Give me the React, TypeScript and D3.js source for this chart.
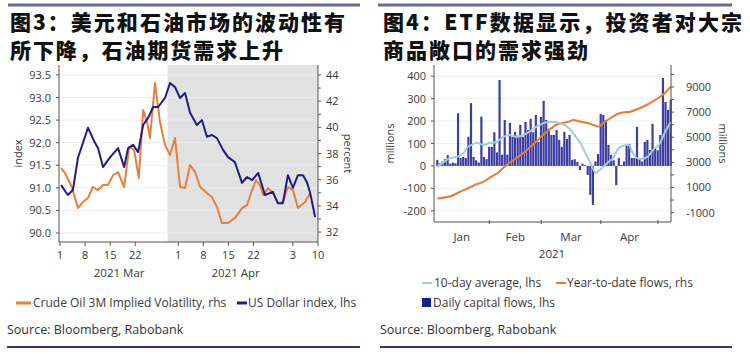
import React from "react";
import * as d3 from "d3";

// ---- Figure 3: USD index vs crude oil implied vol ----
// x is in days from the first observation (axis has uneven gaps in the source)
const fig3TickDays = [0, 7, 14, 21, 33, 40, 47, 54, 65, 72];
const fig3TickLabels = ["1", "8", "15", "22", "1", "8", "15", "22", "3", "10"];
const fig3MonthLabels = ["2021 Mar", "2021 Apr"];
const fig3MonthSpans = [[0, 33], [33, 65]];
const fig3ShadeFrom = 30;

const usdDays = [0.3, 2.2, 3.6, 5, 7.8, 9.8, 10.6, 12, 14, 16.2, 17.9, 19, 20.4, 21.8, 23.2, 24.6, 26, 27.4, 29.3, 30.7, 32.1, 33.5, 34.9, 36.3, 38.2, 39.6, 41, 42.4, 43.8, 45.5, 46.9, 48.8, 50.8, 52.2, 53.6, 55.3, 57.2, 59.4, 60.8, 62.2, 63.6, 65, 66.4, 67.8, 68.9, 69.8, 71.2];
const usdIndex = [91.06, 90.84, 90.95, 91.66, 92.33, 91.99, 91.88, 91.46, 91.68, 91.88, 91.46, 91.88, 91.95, 91.79, 92.39, 92.55, 92.79, 92.79, 92.99, 93.32, 93.23, 92.99, 93.1, 92.66, 92.39, 92.5, 92.13, 92.17, 92.1, 91.84, 91.68, 91.57, 91.11, 91.24, 91.17, 91.33, 90.84, 90.91, 90.66, 90.66, 91.28, 91.0, 91.28, 91.28, 91.13, 90.89, 90.35];

const oilDays = [0.3, 1.4, 3.3, 5, 6.4, 7.8, 9.2, 10.6, 12, 13.4, 14.8, 16.2, 17.9, 19.3, 20.7, 22, 23.2, 24.3, 25.1, 26.5, 27.9, 29.3, 30.7, 32.1, 33.5, 34.9, 36.3, 37.7, 39.1, 41, 42.4, 43.8, 45.2, 46.9, 48.8, 50.8, 52.2, 53.6, 54.7, 55.8, 56.7, 58.1, 59.4, 60.8, 62.2, 63.6, 65, 66.4, 68.4, 69.8];
const oilVol = [36.89, 36.51, 35.44, 33.83, 34.29, 34.6, 35.44, 35.21, 35.59, 35.59, 36.35, 36.58, 35.44, 38.5, 38.27, 36.13, 41.32, 40.41, 39.18, 43.39, 40.41, 38.65, 37.88, 39.18, 35.44, 35.36, 37.12, 36.58, 35.44, 34.98, 34.67, 33.91, 32.69, 32.69, 33.07, 33.83, 34.06, 35.21, 35.97, 35.59, 34.83, 35.36, 34.98, 34.21, 34.29, 35.44, 35.21, 33.83, 34.29, 34.98];

// ---- Figure 4: commodity ETF flows ----
const flowStart = new Date(2021, 0, 4);
const dailyFlows = [27, 12, 20, 30, 48, 10, 15, 12, 235, 35, 40, 35, 130, 280, 40, 25, 15, 220, 40, 30, 85, 85, 150, 60, 383, 50, 205, 50, 192, 130, 152, 135, 183, 130, 196, 160, 210, 150, 227, 107, 218, 290, 205, 166, 138, 138, 160, 116, 85, 152, 120, 138, 27, 30, 18, -18, 10, 3, -40, -129, -174, 20, 53, 232, 227, 205, 94, 49, 25, -86, 35, 5, 20, 98, 98, 35, 35, 174, 35, 20, 107, 116, 71, 188, 80, 70, 138, 392, 285, 250, 294];

const avgIdx = [0, 2.6, 4.9, 7.5, 10.2, 11.4, 13.3, 15.2, 17.9, 20.2, 22.8, 25.5, 27.8, 30.5, 33.2, 35.4, 38.1, 40.8, 42.7, 45, 47.7, 49.5, 51.5, 53.4, 55.3, 57.2, 59.2, 61.1, 63, 65.7, 68, 69.9, 71.8, 73.7, 75.6, 78.3, 81, 83.2, 85.8, 87.7, 90];
const avg10d = [-4, 18, 36, 40, 58, 80, 94, 103, 94, 103, 107, 130, 138, 130, 138, 152, 174, 190, 196, 196, 189, 180, 160, 130, 100, 55, 10, -31, -15, 15, 38, 78, 90, 94, 52, 30, 40, 71, 100, 148, 196];

const ytdIdx = [0, 6.4, 8.7, 12.1, 14.4, 17.9, 20.9, 23.9, 25.9, 27.8, 30.5, 33.2, 35.4, 38.1, 40.8, 43.1, 45.7, 48.4, 50.4, 52.6, 55.3, 58, 60.3, 62.2, 64, 66.8, 70.6, 74.4, 78.2, 82, 85.9, 87.8, 90];
const ytdFlows = [120, 400, 660, 957, 1196, 1459, 1857, 2255, 2653, 2947, 3346, 3744, 4142, 4643, 5177, 5575, 5973, 6132, 6212, 6371, 6236, 6132, 5973, 5838, 6132, 6530, 6928, 7032, 7326, 7724, 8226, 8521, 9022];

const fig4Months = ["Jan", "Feb", "Mar", "Apr"];

const FONT = "'Open Sans', 'Noto Sans', sans-serif";
const CJK = "'Noto Sans CJK SC', sans-serif";
const AXIS = "#555";
const TXT = "#3a3a3a";

function Title({ x, lines, widths }: { x: number; lines: string[]; widths: number[] }) {
  return (
    <g>
      {lines.map((t, i) => (
        <text key={i} x={x} y={30 + i * 28} fontFamily={CJK} fontWeight={900} fontSize={21}
          fill="#111" textLength={widths[i]} lengthAdjust="spacing">{t}</text>
      ))}
    </g>
  );
}

function Fig3() {
  const left = 59, right = 318, top = 65, bottom = 242;
  const x = d3.scaleLinear().domain([0, 72]).range([60, 318]);
  const yL = d3.scaleLinear().domain([89.8, 93.72]).range([bottom, top]);
  const yR = d3.scaleLinear().domain([31.24, 44.76]).range([bottom, top]);
  const lTicks = d3.range(90, 93.51, 0.5);
  const rTicks = d3.range(32, 44.1, 1);
  const usdLine = d3.line<number>().x((_, i) => x(usdDays[i])).y((v) => yL(v)).curve(d3.curveLinear);
  const oilLine = d3.line<number>().x((_, i) => x(oilDays[i])).y((v) => yR(v));
  return (
    <g>
      <line x1={8} x2={360} y1={5} y2={5} stroke="#6b6a98" strokeWidth={3} />
      <Title x={10} lines={["图3：美元和石油市场的波动性有", "所下降，石油期货需求上升"]} widths={[335, 273]} />
      <rect x={x(fig3ShadeFrom)} y={top} width={right - x(fig3ShadeFrom)} height={bottom - top} fill="#e1e1e1" />
      {lTicks.map((t) => (
        <line key={t} x1={left} x2={right} y1={yL(t)} y2={yL(t)} stroke="#ececec" strokeWidth={1} />
      ))}
      <path d={oilLine(oilVol) || ""} fill="none" stroke="#e8803a" strokeWidth={2} strokeLinejoin="round" />
      <path d={usdLine(usdIndex) || ""} fill="none" stroke="#1e1e86" strokeWidth={2} strokeLinejoin="round" />
      {/* axes */}
      <line x1={left} x2={left} y1={top} y2={bottom} stroke={AXIS} />
      <line x1={right} x2={right} y1={top} y2={bottom} stroke={AXIS} />
      <line x1={left} x2={right} y1={bottom} y2={bottom} stroke={AXIS} />
      {lTicks.map((t) => (
        <g key={t}>
          <line x1={left - 3} x2={left} y1={yL(t)} y2={yL(t)} stroke={AXIS} />
          <text x={left - 8} y={yL(t) + 4} textAnchor="end" fontFamily={FONT} fontSize={11} fill={TXT}>{t.toFixed(1)}</text>
        </g>
      ))}
      {rTicks.map((t) => (
        <g key={t}>
          <line x1={right} x2={right + 3} y1={yR(t)} y2={yR(t)} stroke={AXIS} />
          {t % 2 === 0 && (
            <text x={right + 8} y={yR(t) + 4} fontFamily={FONT} fontSize={11} fill={TXT}>{t}</text>
          )}
        </g>
      ))}
      {fig3TickDays.map((d, i) => (
        <g key={i}>
          <line x1={x(d)} x2={x(d)} y1={bottom} y2={bottom + 4} stroke={AXIS} />
          <text x={x(d)} y={259} textAnchor="middle" fontFamily={FONT} fontSize={11} fill={TXT}>{fig3TickLabels[i]}</text>
        </g>
      ))}
      {fig3MonthLabels.map((m, i) => (
        <text key={m} x={(x(fig3MonthSpans[i][0]) + x(fig3MonthSpans[i][1])) / 2} y={277} textAnchor="middle"
          fontFamily={FONT} fontSize={11.5} fill={TXT}>{m}</text>
      ))}
      <text transform={`translate(22,${(top + bottom) / 2}) rotate(-90)`} textAnchor="middle" fontFamily={FONT} fontSize={11} fill={TXT}>index</text>
      <text transform={`translate(344,${(top + bottom) / 2}) rotate(90)`} textAnchor="middle" fontFamily={FONT} fontSize={11} fill={TXT}>percent</text>
      {/* legend */}
      <line x1={16} x2={31} y1={303} y2={303} stroke="#e8803a" strokeWidth={3} />
      <text x={33} y={307} fontFamily={FONT} fontSize={12} fill={TXT}>Crude Oil 3M Implied Volatility, rhs</text>
      <line x1={237} x2={247} y1={303} y2={303} stroke="#1e1e86" strokeWidth={3} />
      <text x={248} y={307} fontFamily={FONT} fontSize={12} fill={TXT}>US Dollar index, lhs</text>
      <text x={7} y={334} fontFamily={FONT} fontSize={12.5} fill="#333">Source: Bloomberg, Rabobank</text>
      <line x1={7} x2={360} y1={347} y2={347} stroke="#34346e" strokeWidth={2} />
    </g>
  );
}

function Fig4() {
  const left = 434, right = 671, top = 65, bottom = 222;
  const n = dailyFlows.length;
  const dates = d3.timeDay.range(flowStart, d3.timeDay.offset(flowStart, 200))
    .filter((d) => d.getDay() !== 0 && d.getDay() !== 6).slice(0, n);
  const xi = d3.scaleLinear().domain([0, n]).range([436, 672]);
  const step = xi(1) - xi(0);
  const yL = d3.scaleLinear().domain([-250, 450]).range([bottom, top]);
  const yR = d3.scaleLinear().domain([-1750, 10750]).range([bottom, top]);
  const lTicks = d3.range(-200, 401, 100);
  const rTicks = d3.range(-1000, 10001, 1000);
  const monthStarts = dates.map((d, i) => (i > 0 && d.getMonth() !== dates[i - 1].getMonth() ? i : -1)).filter((i) => i >= 0);
  const tickX = monthStarts.map((i) => xi(i) + 1.5);
  const bounds = [left, ...tickX];
  const avgLine = d3.line<number>().x((_, i) => xi(avgIdx[i] + 0.5)).y((v) => yL(v)).curve(d3.curveMonotoneX);
  const ytdLine = d3.line<number>().x((_, i) => xi(ytdIdx[i] + 0.5)).y((v) => yR(v)).curve(d3.curveMonotoneX);
  return (
    <g>
      <line x1={378} x2={732} y1={5} y2={5} stroke="#6b6a98" strokeWidth={3} />
      <Title x={383} lines={["图4：ETF数据显示，投资者对大宗", "商品敞口的需求强劲"]} widths={[359, 205]} />
      {lTicks.map((t) => (
        <line key={t} x1={left} x2={right} y1={yL(t)} y2={yL(t)} stroke="#efefef" />
      ))}
      {dailyFlows.map((v, i) => (
        <rect key={i} x={xi(i) + step * 0.08} width={step * 0.84} y={yL(Math.max(0, v))}
          height={Math.abs(yL(v) - yL(0))} fill="#3d3da2" />
      ))}
      <path d={ytdLine(ytdFlows) || ""} fill="none" stroke="#ec7a30" strokeWidth={2} />
      <path d={avgLine(avg10d) || ""} fill="none" stroke="#9fcbe3" strokeWidth={2} />
      <line x1={left} x2={left} y1={top} y2={bottom} stroke={AXIS} />
      <line x1={right} x2={right} y1={top} y2={bottom} stroke={AXIS} />
      <line x1={left} x2={right} y1={bottom} y2={bottom} stroke={AXIS} />
      {lTicks.map((t) => (
        <g key={t}>
          <line x1={left - 3} x2={left} y1={yL(t)} y2={yL(t)} stroke={AXIS} />
          <text x={left - 8} y={yL(t) + 4} textAnchor="end" fontFamily={FONT} fontSize={11} fill={TXT}>{t}</text>
        </g>
      ))}
      {rTicks.map((t) => (
        <g key={t}>
          <line x1={right} x2={right + 3} y1={yR(t)} y2={yR(t)} stroke={AXIS} />
          {Math.abs(t / 1000) % 2 === 1 && (
            <text x={right + 15} y={yR(t) + 4} fontFamily={FONT} fontSize={11} fill={TXT}>{String(t)}</text>
          )}
        </g>
      ))}
      {tickX.map((tx, i) => (
        <line key={i} x1={tx} x2={tx} y1={bottom - 2} y2={bottom + 2} stroke={AXIS} />
      ))}
      {fig4Months.map((m, i) => (
        <text key={m} x={(bounds[i] + bounds[i + 1]) / 2} y={241} textAnchor="middle" fontFamily={FONT} fontSize={11.5} fill={TXT}>{m}</text>
      ))}
      <text x={552} y={258} textAnchor="middle" fontFamily={FONT} fontSize={11.5} fill={TXT}>2021</text>
      <text transform={`translate(394,${(top + bottom) / 2}) rotate(-90)`} textAnchor="middle" fontFamily={FONT} fontSize={11} fill={TXT}>millions</text>
      <text transform={`translate(719,${(top + bottom) / 2}) rotate(90)`} textAnchor="middle" fontFamily={FONT} fontSize={11} fill={TXT}>millions</text>
      <line x1={422} x2={432} y1={283} y2={283} stroke="#9fcbe3" strokeWidth={2} />
      <text x={434} y={287} fontFamily={FONT} fontSize={12} fill={TXT}>10-day average, lhs</text>
      <line x1={556} x2={566} y1={283} y2={283} stroke="#ec7a30" strokeWidth={2} />
      <text x={567} y={287} fontFamily={FONT} fontSize={12} fill={TXT}>Year-to-date flows, rhs</text>
      <rect x={422} y={298} width={9} height={9} fill="#1e1e96" />
      <text x={433} y={307} fontFamily={FONT} fontSize={12} fill={TXT}>Daily capital flows, lhs</text>
      <text x={380} y={334} fontFamily={FONT} fontSize={12.5} fill="#333">Source: Bloomberg, Rabobank</text>
      <line x1={380} x2={732} y1={347} y2={347} stroke="#34346e" strokeWidth={2} />
    </g>
  );
}

export default function App() {
  return (
    <svg width={750} height={354} style={{ position: "absolute", left: 0, top: 0, background: "#fff" }}>
      <rect width={750} height={354} fill="#fff" />
      <Fig3 />
      <Fig4 />
    </svg>
  );
}
